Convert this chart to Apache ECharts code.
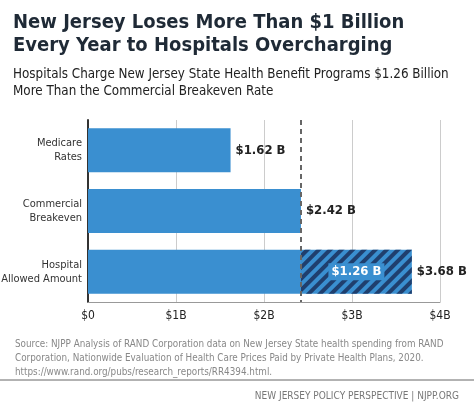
<!DOCTYPE html><html><head><meta charset="utf-8"><script src="https://cdn.jsdelivr.net/npm/echarts@6/dist/echarts.min.js"></script>
<style>body{margin:0}#c{width:474px;height:402px}</style></head><body><div id="c"></div><script>
const categories=['Medicare\nRates','Commercial\nBreakeven','Hospital\nAllowed Amount'];
const baseValues=[1.62,2.42,2.42];
const overcharge=[null,null,1.26];
const totals=[1.62,2.42,3.68];
const xTicks=['$0','$1B','$2B','$3B','$4B'];
const breakeven=2.42;
const F="'DejaVu Sans Condensed',sans-serif";
const c=echarts.init(document.getElementById('c'));
const fmt=v=>'$'+v.toFixed(2)+' B';
c.setOption({
 animation:false,
 title:[{text:'New Jersey Loses More Than $1 Billion\nEvery Year to Hospitals Overcharging',left:8,top:6,textStyle:{fontFamily:F,fontSize:20,fontWeight:'bold',color:'#1f2a36',lineHeight:23}},
 {text:'Hospitals Charge New Jersey State Health Benefit Programs $1.26 Billion\nMore Than the Commercial Breakeven Rate',left:8,top:61,textStyle:{fontFamily:F,fontSize:13.3,fontWeight:'normal',color:'#222',lineHeight:17}},
 {text:'Source: NJPP Analysis of RAND Corporation data on New Jersey State health spending from RAND\nCorporation, Nationwide Evaluation of Health Care Prices Paid by Private Health Plans, 2020.\nhttps://www.rand.org/pubs/research_reports/RR4394.html.',left:10,top:332,textStyle:{fontFamily:F,fontSize:9.8,fontWeight:'normal',color:'#888',lineHeight:14}},
 {text:'NEW JERSEY POLICY PERSPECTIVE | NJPP.ORG',right:10,top:386,textStyle:{fontFamily:F,fontSize:10,fontWeight:'normal',color:'#777'}}],
 graphic:[{type:'line',shape:{x1:0,y1:380,x2:474,y2:380},style:{stroke:'#666',lineWidth:1}}],
 grid:{left:88,right:34,top:120,bottom:100,outerBoundsMode:'none'},
 xAxis:{type:'value',min:0,max:4,interval:1,axisLabel:{formatter:v=>xTicks[v],fontFamily:F,fontSize:12,color:'#222'},
  splitLine:{lineStyle:{color:'#ccc'}},axisLine:{show:true,lineStyle:{color:'#999'}}},
 yAxis:{type:'category',data:categories,inverse:true,axisTick:{show:false},axisLine:{lineStyle:{color:'#333',width:2}},
  axisLabel:{fontFamily:F,fontSize:11,color:'#333',lineHeight:14,margin:6}},
 series:[
  {type:'bar',stack:'s',data:baseValues,barWidth:44,itemStyle:{color:'#3a8fd0'},
   label:{show:true,position:'right',fontFamily:F,fontWeight:'bold',fontSize:13,color:'#222',formatter:p=>p.dataIndex<2?fmt(totals[p.dataIndex]):''},
   markLine:{silent:true,symbol:'none',label:{show:false},lineStyle:{color:'#666',type:[5,4],width:2},data:[{xAxis:breakeven}]}},
  {type:'bar',stack:'s',data:overcharge,itemStyle:{color:'#3a8fd0',decal:{symbol:'rect',color:'#1f3f6e',dashArrayX:[1,0],dashArrayY:[4,4],rotation:-Math.PI/4,symbolSize:1}},
   label:{show:true,position:'inside',formatter:p=>fmt(p.value),fontFamily:F,fontWeight:'bold',fontSize:13,color:'#fff',backgroundColor:'#3a8fd0',padding:[2,3]}},
  {type:'bar',stack:'s',data:[null,null,0],itemStyle:{color:'transparent'},
   label:{show:true,position:'right',fontFamily:F,fontWeight:'bold',fontSize:13,color:'#222',formatter:p=>fmt(totals[p.dataIndex])}}
 ]
});
</script></body></html>
